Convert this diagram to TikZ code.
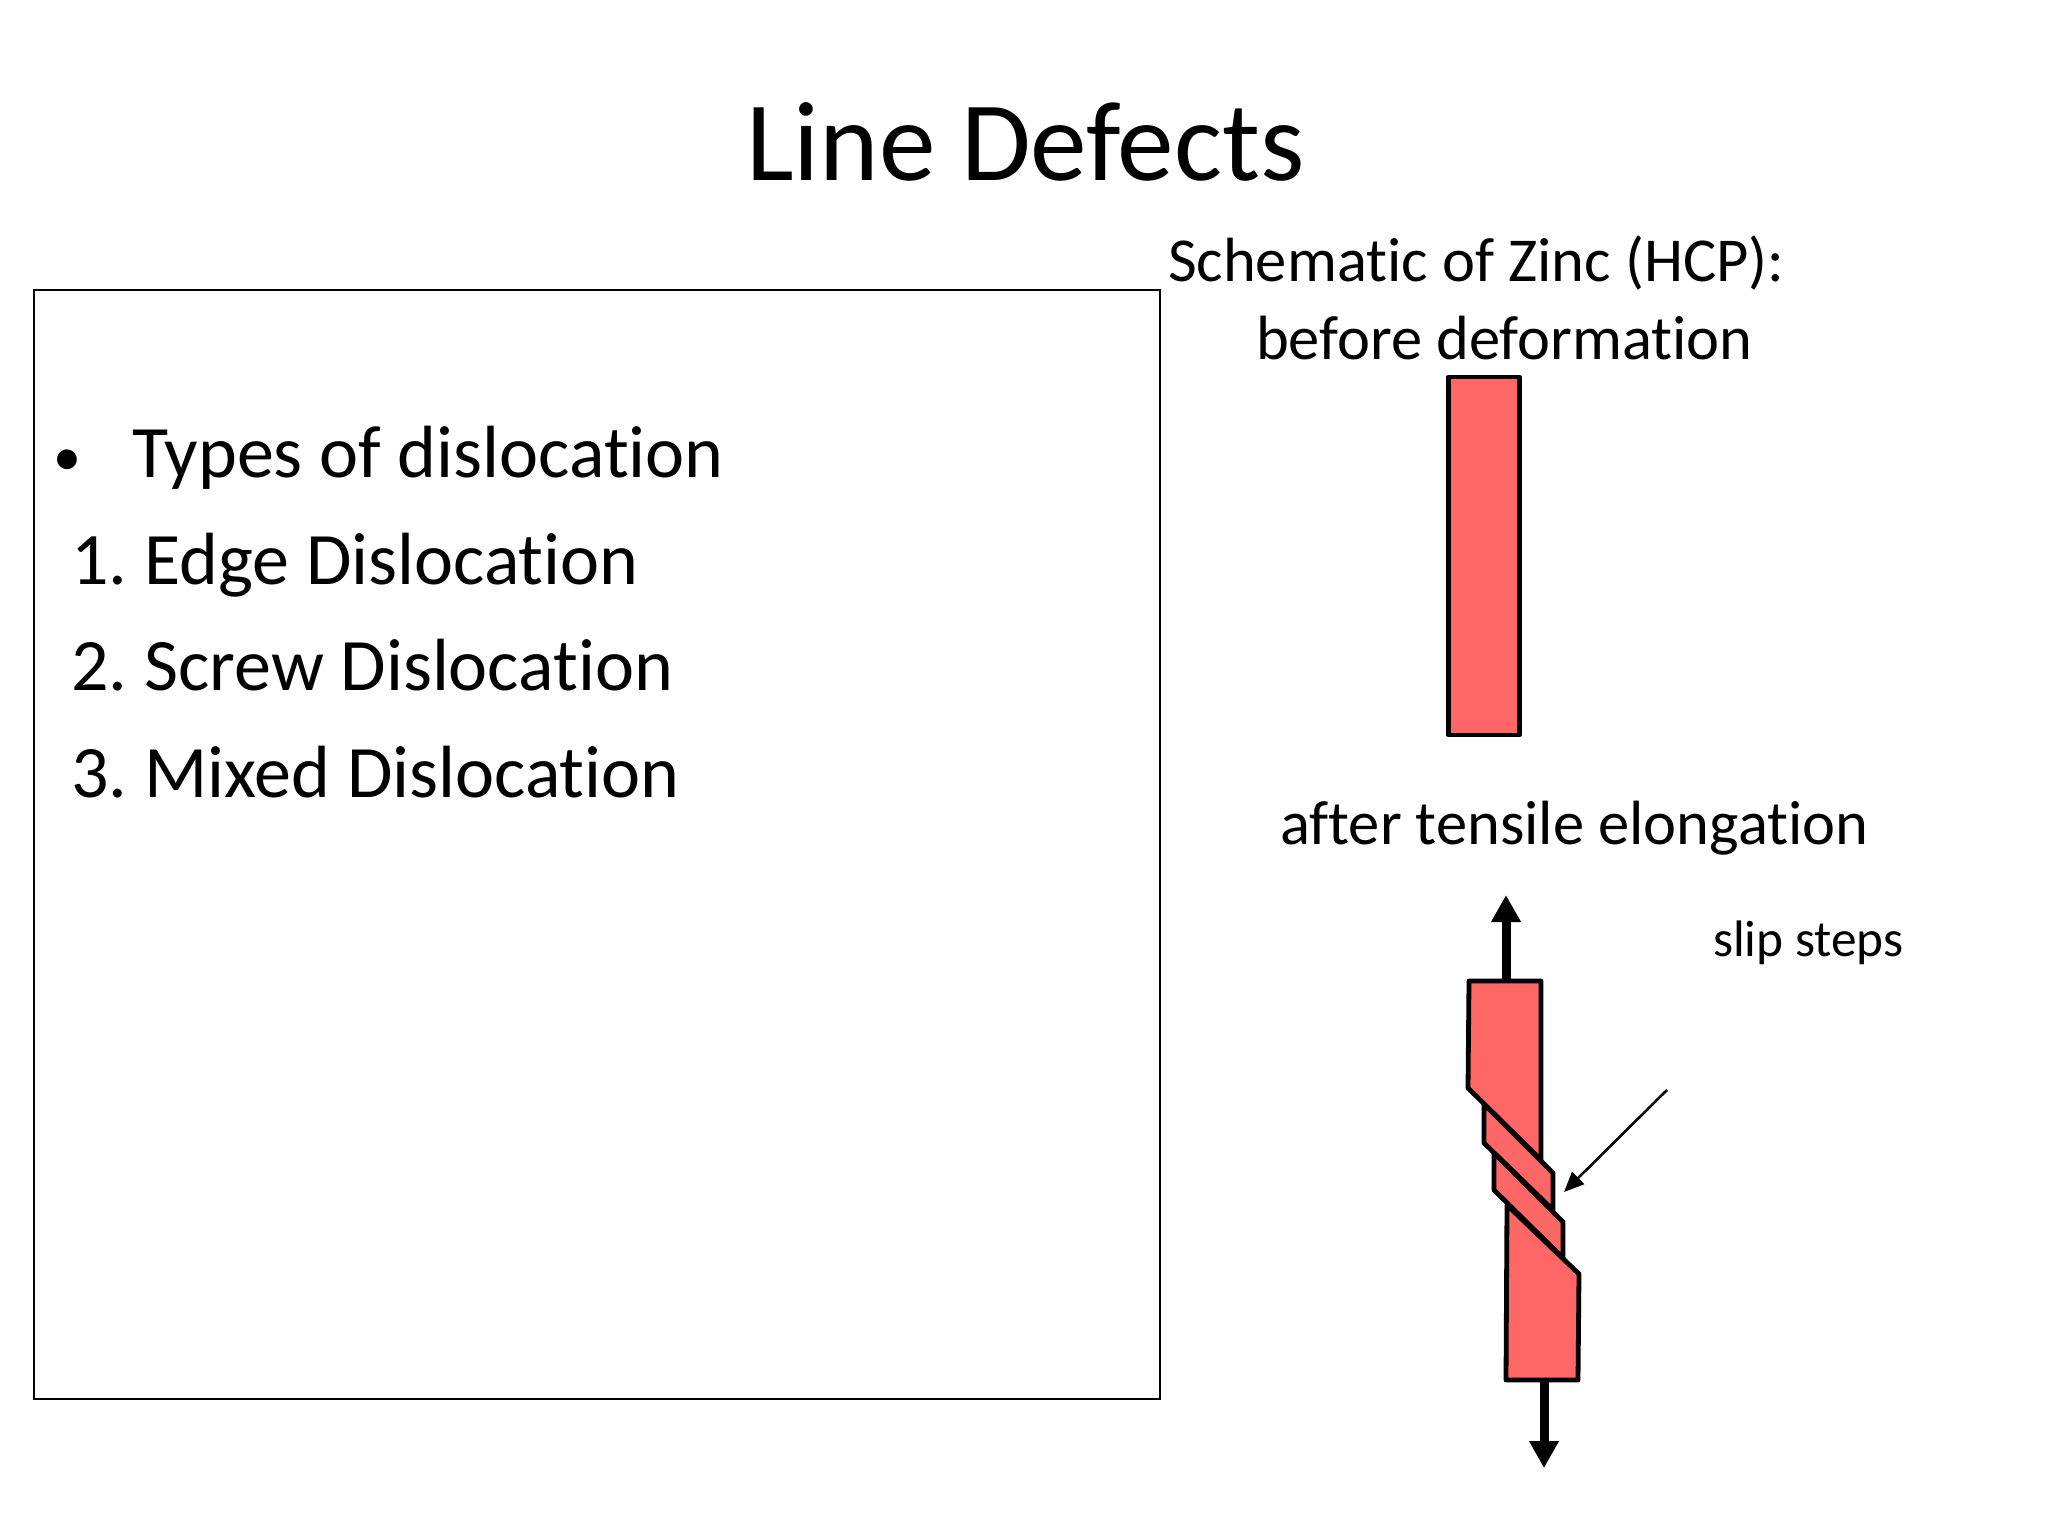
\documentclass[tikz,border=0pt]{standalone}
\usepackage{fontspec}
\setmainfont[Ligatures=NoCommon]{Carlito}
\usetikzlibrary{arrows.meta}
\definecolor{barred}{HTML}{FF6666}
\tikzset{
  x=1pt,y=-1pt,
  lbl/.style={anchor=base west,inner sep=0pt,outer sep=0pt,text=black},
  titletext/.style={lbl,font=\fontsize{113.3}{113}\selectfont},
  bodytext/.style={lbl,font=\fontsize{74}{74}\selectfont},
  bullettext/.style={lbl,font=\fontsize{56}{56}\selectfont},
  sidetext/.style={lbl,font=\fontsize{62.5}{62}\selectfont},
  smalltext/.style={lbl,font=\fontsize{51.3}{51}\selectfont},
  barshape/.style={draw=black,fill=barred,line width=4.8pt,line join=round},
  pull/.style={draw=black,line width=9pt,-{Triangle[length=27pt,width=28pt]}},
  pointer/.style={draw=black,line width=2.5pt,-{Triangle[length=20pt,width=17pt]}}
}
\begin{document}
\begin{tikzpicture}
\useasboundingbox (0,0) rectangle (2048,1536);
\fill[white] (0,0) rectangle (2048,1536);
\node[titletext] (title) at (746,180) {Line Defects};
\node[draw=black,line width=2.2pt,minimum width=1126pt,minimum height=1109pt,anchor=north west,inner sep=0pt] (box) at (33,289) {};
\node[bullettext] (bullet) at (53,475) {•};
\node[bodytext] (types) at (132,477) {Types of dislocation};
\node[bodytext] (one) at (71,584) {1.\hspace{-5pt} Edge Dislocation};
\node[bodytext] (two) at (71,690) {2.\hspace{-5pt} Screw Dislocation};
\node[bodytext] (three) at (71,797) {3.\hspace{-5pt} Mixed Dislocation};
\node[sidetext] (schem) at (1168,281) {Schematic of Zinc (HCP):};
\node[sidetext] (before) at (1256,359.5) {before deformation};
\node[sidetext] (after) at (1280,844) {after tensile elongation};
\node[smalltext] (slip) at (1713,956) {slip steps};
\node[barshape,minimum width=71pt,minimum height=358pt,anchor=north west,inner sep=0pt] (bar) at (1446,374.5) {};
\coordinate (upbase) at (1506,981);
\coordinate (uptip) at (1506,895);
\coordinate (downbase) at (1544,1380);
\coordinate (downtip) at (1544,1468);
\coordinate (ptrstart) at (1667,1090);
\coordinate (ptrtip) at (1564,1192);
\draw[pull] (upbase) -- (uptip);
\draw[pull] (downbase) -- (downtip);
\draw[barshape] (1507,1205) -- (1579,1274) -- (1578,1380) -- (1506,1380) -- cycle;
\draw[barshape] (1469,981) -- (1541,981) -- (1541,1160) -- (1468,1088) -- cycle;
\draw[barshape] (1484,1104) -- (1553,1173) -- (1553,1210) -- (1484,1143) -- cycle;
\draw[barshape] (1494,1153) -- (1563,1222) -- (1563,1258) -- (1494,1190) -- cycle;
\draw[pointer] (ptrstart) -- (ptrtip);
\end{tikzpicture}
\end{document}
